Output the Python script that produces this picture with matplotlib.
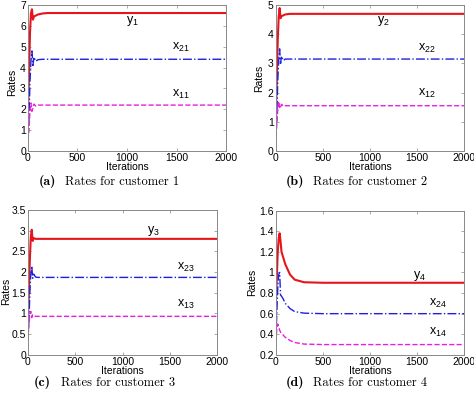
import matplotlib.pyplot as plt

plt.rcParams['font.family'] = 'Liberation Sans'
plt.rcParams['mathtext.default'] = 'regular'

# iteration samples (transient near the start, flat afterwards)
it = [0, 10, 20, 30, 40, 50, 60, 80, 100, 150, 200, 300, 500, 2000]

# customer 1
y1  = [1.8, 3.5, 5.6, 6.6, 6.8, 6.3, 6.45, 6.5, 6.55, 6.6, 6.62, 6.62, 6.62, 6.62]
x21 = [0.5, 1.5, 3.3, 4.3, 4.8, 4.1, 4.5, 4.3, 4.38, 4.4, 4.4, 4.4, 4.4, 4.4]
x11 = [0.5, 1.0, 1.9, 2.3, 1.9, 2.05, 2.25, 2.15, 2.2, 2.2, 2.2, 2.2, 2.2, 2.2]

# customer 2
y2  = [1.3, 2.4, 3.8, 4.6, 4.9, 4.55, 4.62, 4.65, 4.68, 4.7, 4.7, 4.7, 4.7, 4.7]
x22 = [0.4, 1.2, 2.4, 3.1, 3.5, 3.0, 3.25, 3.1, 3.15, 3.15, 3.15, 3.15, 3.15, 3.15]
x12 = [0.5, 0.9, 1.4, 1.7, 1.45, 1.5, 1.6, 1.53, 1.55, 1.55, 1.55, 1.55, 1.55, 1.55]

# customer 3
y3  = [0.9, 1.5, 2.3, 2.85, 3.02, 2.75, 2.82, 2.8, 2.8, 2.8, 2.8, 2.8, 2.8, 2.8]
x23 = [0.4, 0.8, 1.5, 1.95, 2.15, 1.85, 1.95, 1.88, 1.87, 1.87, 1.87, 1.87, 1.87, 1.87]
x13 = [0.45, 0.7, 1.0, 1.05, 0.9, 0.97, 0.95, 0.93, 0.93, 0.93, 0.93, 0.93, 0.93, 0.93]

# customer 4
y4  = [0.7, 0.95, 1.2, 1.33, 1.38, 1.3, 1.2, 1.14, 1.08, 0.98, 0.93, 0.905, 0.9, 0.9]
x24 = [0.35, 0.6, 0.85, 0.98, 1.0, 0.78, 0.77, 0.74, 0.7, 0.65, 0.62, 0.605, 0.6, 0.6]
x14 = [0.33, 0.45, 0.5, 0.47, 0.44, 0.42, 0.41, 0.39, 0.37, 0.34, 0.32, 0.305, 0.3, 0.3]

series = [(y1, x21, x11), (y2, x22, x12), (y3, x23, x13), (y4, x24, x14)]
curve_labels = [
    ['y$_1$', 'x$_{21}$', 'x$_{11}$'],
    ['y$_2$', 'x$_{22}$', 'x$_{12}$'],
    ['y$_3$', 'x$_{23}$', 'x$_{13}$'],
    ['y$_4$', 'x$_{24}$', 'x$_{14}$'],
]
yticks = [
    [0, 1, 2, 3, 4, 5, 6, 7],
    [0, 1, 2, 3, 4, 5],
    [0, 0.5, 1, 1.5, 2, 2.5, 3, 3.5],
    [0.2, 0.4, 0.6, 0.8, 1, 1.2, 1.4, 1.6],
]
tags = ['(a)', '(b)', '(c)', '(d)']
captions = ['Rates for customer 1', 'Rates for customer 2',
            'Rates for customer 3', 'Rates for customer 4']

# label anchors (iteration, rate) for y, x_2k, x_1k
label_pos = [
    [(990, 6.15), (1455, 4.85), (1455, 2.6)],
    [(1074, 4.37), (1510, 3.43), (1510, 1.9)],
    [(1259, 2.95), (1577, 2.06), (1577, 1.16)],
    [(1457, 0.95), (1628, 0.68), (1628, 0.395)],
]

# layout (figure fractions)
rects = [
    [0.059, 0.616, 0.418, 0.371],
    [0.582, 0.616, 0.397, 0.371],
    [0.059, 0.097, 0.399, 0.369],
    [0.582, 0.097, 0.397, 0.367],
]
ylab_x = [-0.056, -0.064, -0.09, -0.10]
ylab_y = [0.47, 0.5, 0.44, 0.5]
tag_x = [0.082, 0.603, 0.072, 0.603]
cap_x = [0.138, 0.661, 0.129, 0.661]
cap_y = [0.537, 0.537, 0.026, 0.026]

fig = plt.figure(figsize=(4.74, 3.93), dpi=100)

for i in range(4):
    y, xa, xb = series[i]
    ax = fig.add_axes(rects[i])
    ax.plot(it, y, color='#e8141c', lw=1.5)
    ax.plot(it, xa, color='#1f1fe0', lw=1.0, ls='-.')
    ax.plot(it, xb, color='#e81ee0', lw=1.0, ls='--')
    ax.set_xlim(0, 2000)
    ax.set_ylim(yticks[i][0], yticks[i][-1])
    ax.set_yticks(yticks[i])
    ax.set_yticklabels(['%g' % t for t in yticks[i]])
    ax.set_xticks([0, 500, 1000, 1500, 2000])
    ax.tick_params(direction='in', top=True, right=True, labelsize=7.5,
                   length=2.5, width=0.5, color='#888888', pad=1.5)
    for s in ax.spines.values():
        s.set_color('#888888')
        s.set_linewidth(0.7)
    ax.set_xlabel('Iterations', fontsize=7.5, labelpad=-0.5)
    ax.set_ylabel('Rates', fontsize=7.5)
    ax.yaxis.set_label_coords(ylab_x[i], ylab_y[i])
    for j in range(3):
        px, py = label_pos[i][j]
        ax.text(px, py, curve_labels[i][j], fontsize=9, ha='left', va='baseline')
    fig.text(tag_x[i], cap_y[i], tags[i], fontsize=10, family='cmb10',
             ha='left', va='center')
    fig.text(cap_x[i], cap_y[i], captions[i], fontsize=9, family='cmr10',
             ha='left', va='center')

plt.savefig('out.png', dpi=100)
